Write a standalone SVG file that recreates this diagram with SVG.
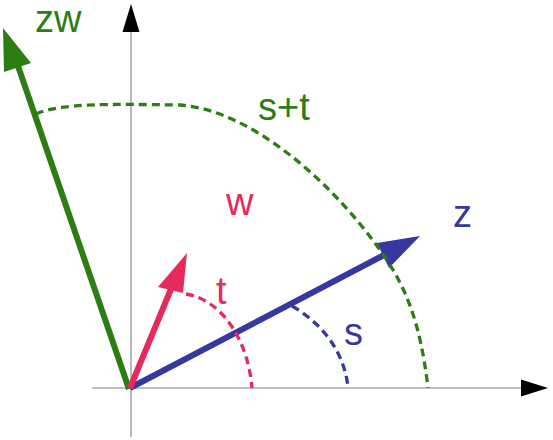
<svg xmlns="http://www.w3.org/2000/svg" width="553" height="440" viewBox="0 0 553 440">
<style>
.axis{stroke:#a8a8a8;stroke-width:1.6;fill:none}
.head{fill:#000}
.vec{stroke-width:6;fill:none;stroke-linecap:butt}
.arc{fill:none;stroke-width:3.3;stroke-dasharray:8 5}
text{font-family:"Liberation Sans",Arial,sans-serif;font-size:38px}
</style>
<rect width="553" height="440" fill="#fff"/>
<g id="axes">
<line class="axis" x1="92" y1="388" x2="526" y2="388"/>
<polygon class="head" points="548,388 521,379.5 521,396.5"/>
<line class="axis" x1="131" y1="437" x2="131" y2="30"/>
<polygon class="head" points="131,4 122.5,32 139.5,32"/>
</g>
<g id="connectors">
<g id="vec-zw">
<line class="vec" stroke="#2b7d14" x1="129" y1="389" x2="18" y2="66"/>
<polygon fill="#2b7d14" points="3,28 4,72 31,63"/>
</g>
<g id="vec-z">
<line class="vec" stroke="#3737a2" x1="130" y1="388" x2="384" y2="255"/>
<polygon fill="#3737a2" points="420,236 377,243 389,268"/>
</g>
<g id="vec-t">
<line class="vec" stroke="#e62a5c" x1="130" y1="388" x2="171" y2="289"/>
<polygon fill="#e62a5c" points="187,253 158,287 183,293"/>
</g>
<path id="arc-s" class="arc" stroke="#3737a2" d="M 292 306 C 325 325, 345 355, 348 388"/>
<path id="arc-t" class="arc" stroke="#e62a5c" d="M 186 294 C 222 300, 248 340, 252 388"/>
<path id="arc-st" class="arc" stroke="#2b7d14" d="M 36 114 C 60 103, 110 104, 180 105 C 250 110, 330 180, 380 250 C 405 285, 420 320, 428 388"/>
</g>
<g id="labels">
<text x="35" y="32" fill="#2b7d14">zw</text>
<text x="258" y="120" fill="#2b7d14">s+t</text>
<text x="226" y="215" fill="#e62a5c">w</text>
<text x="216" y="304" fill="#e62a5c">t</text>
<text x="453" y="227" fill="#3737a2">z</text>
<text x="344" y="345" fill="#3737a2">s</text>
</g>
</svg>
